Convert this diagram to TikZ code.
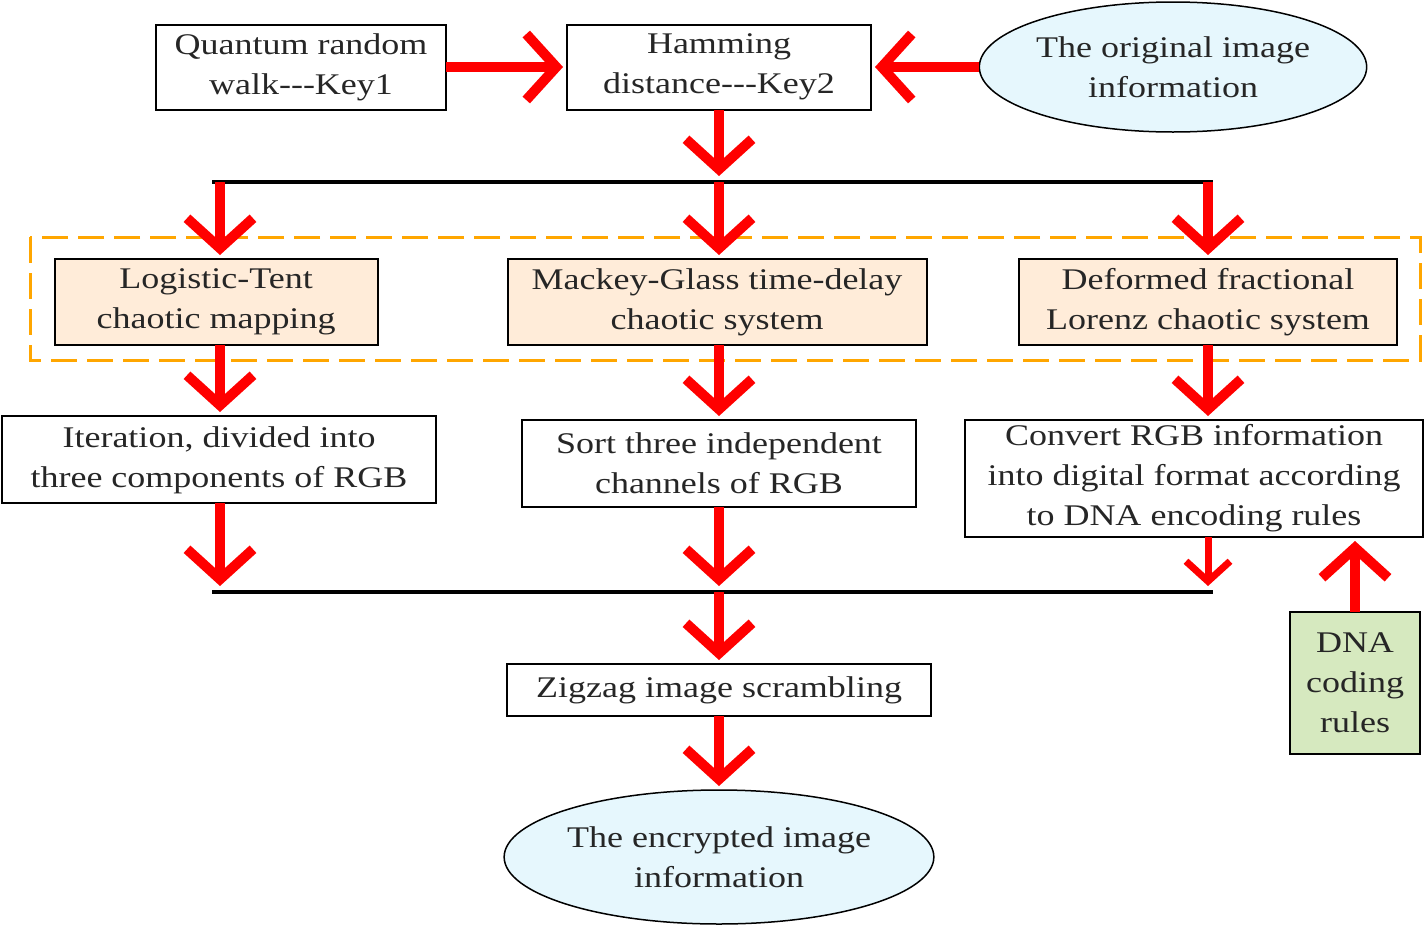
\documentclass[tikz,border=0pt]{standalone}
\usepackage{fontspec}
\setmainfont[FakeStretch=1.2]{Liberation Serif}
\usetikzlibrary{arrows.meta,shapes.geometric}
\begin{document}
\begin{tikzpicture}[x=1pt,y=-1pt,
 txt/.style={font=\fontsize{30}{40}\selectfont,align=center,text=black!85},
 bx/.style={draw,line width=1.5pt,inner sep=0pt},
 ch/.style={fill=orange!15},
 el/.style={draw,line width=1.5pt,fill=cyan!10,ellipse,inner sep=0pt},
 ra/.style={draw=red,line width=10pt,-{Straight Barb[length=30pt,width=66pt,line width=10pt]},shorten >=4pt}]
\useasboundingbox (0,0) rectangle (1425,932);
\draw[orange!70!yellow,line width=3pt,dash pattern=on 26pt off 10pt] (30,237) rectangle (1420,360);
\draw[bx] (156,25) rectangle (446,110); \node[txt] (q) at (301,67) {Quantum random\\walk{-}{-}{-}Key1};
\coordinate (qe) at (446,67);
\draw[bx] (567,25) rectangle (871,110); \node[txt] (h) at (719,67) {Hamming\\distance{-}{-}{-}Key2};
\coordinate (hw) at (567,67); \coordinate (he) at (871,67); \coordinate (hs) at (719,110);
\node[el,minimum width=344pt,minimum height=130pt,txt] (o) at (1173,67) {The original image\\information};
\draw[bx,ch] (55,259) rectangle (378,345); \node[txt] (lt) at (216,302) {Logistic-Tent\\chaotic mapping};
\draw[bx,ch] (508,259) rectangle (927,345); \node[txt] (mg) at (717,302) {Mackey-Glass time-delay\\chaotic system};
\draw[bx,ch] (1019,259) rectangle (1397,345); \node[txt] (df) at (1208,302) {Deformed fractional\\Lorenz chaotic system};
\draw[bx] (2,416) rectangle (436,503); \node[txt] (it) at (219,460) {Iteration, divided into\\three components of RGB};
\draw[bx] (522,420) rectangle (916,507); \node[txt] (so) at (719,463) {Sort three independent\\channels of RGB};
\draw[bx] (965,420) rectangle (1423,537); \node[txt] (cv) at (1194,478) {Convert RGB information\\into digital format according\\to DNA encoding rules};
\draw[bx] (507,664) rectangle (931,716); \node[txt] (zz) at (719,690) {Zigzag image scrambling};
\node[el,minimum width=376pt,minimum height=134pt,txt] (en) at (719,857) {The encrypted image\\information};
\draw[bx,fill=green!30!olive!25] (1290,612) rectangle (1420,754); \node[txt] (dna) at (1355,683) {DNA\\coding\\rules};
\coordinate (t1) at (212,182); \coordinate (t2) at (1213,182);
\coordinate (b1) at (212,592); \coordinate (b2) at (1213,592);
\draw[line width=4pt] (t1) -- (t2); \draw[line width=4pt] (b1) -- (b2);
\draw[ra] (qe) -- (hw);
\draw[ra] (o.west) -- (he);
\draw[ra] (hs) -- (719,180);
\draw[ra] (220,182) -- (220,259);
\draw[ra] (719,182) -- (719,259);
\draw[ra] (1208,182) -- (1208,259);
\draw[ra] (220,345) -- (220,416);
\draw[ra] (719,345) -- (719,420);
\draw[ra] (1208,345) -- (1208,420);
\draw[ra] (220,503) -- (220,590);
\draw[ra] (719,507) -- (719,590);
\draw[ra,line width=7pt,-{Straight Barb[length=20pt,width=44pt,line width=7pt]}] (1208,537) -- (1208,590);
\draw[ra] (719,592) -- (719,664);
\draw[ra] (719,716) -- (719,790);
\draw[ra] (1355,612) -- (1355,537);
\end{tikzpicture}
\end{document}
